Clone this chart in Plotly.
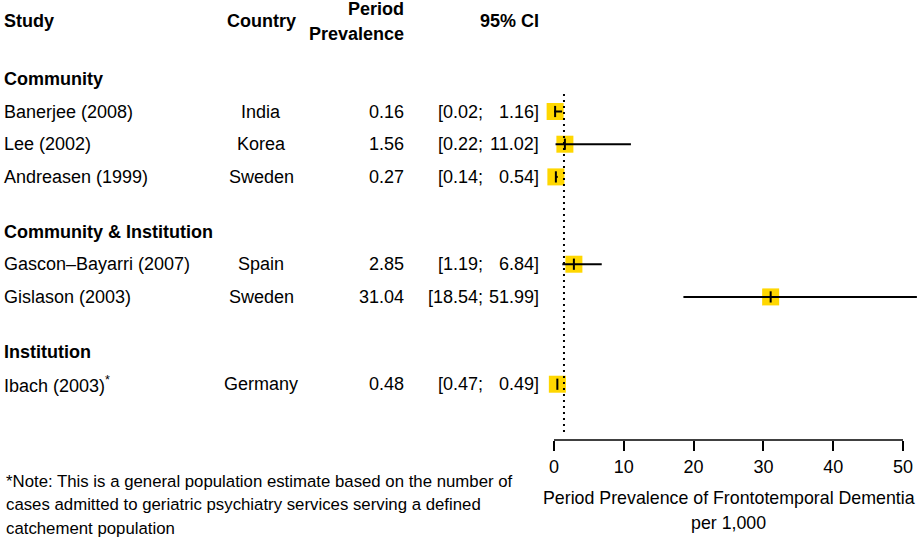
import plotly.graph_objects as go

# ---------------- data ----------------
groups = ["Community", "Community & Institution", "Institution"]
study_group = ["Community", "Community", "Community",
               "Community & Institution", "Community & Institution",
               "Institution"]
studies = ["Banerjee (2008)", "Lee (2002)", "Andreasen (1999)",
           "Gascon\u2013Bayarri (2007)", "Gislason (2003)",
           "Ibach (2003)<sup>*</sup>"]
countries = ["India", "Korea", "Sweden", "Spain", "Sweden", "Germany"]
prevalence = [0.16, 1.56, 0.27, 2.85, 31.04, 0.48]
ci_lower = [0.02, 0.22, 0.14, 1.19, 18.54, 0.47]
ci_upper = [1.16, 11.02, 0.54, 6.84, 51.99, 0.49]
pooled_estimate = 1.43
x_ticks = [0, 10, 20, 30, 40, 50]
x_title = ["Period Prevalence of Frontotemporal Dementia", "per 1,000"]
note_lines = ["*Note: This is a general population estimate based on the number of",
              "cases admitted to geriatric psychiatry services serving a defined",
              "catchement population"]

# ---------------- layout helpers ----------------
W, H = 920, 537
PLOT_BOTTOM = 440          # pixel of x axis
ROW0_PX, ROW_PX = 78.8, 32.7
GROUP_GAP = 0.67
FONT = "Liberation Sans, Arial, Helvetica, sans-serif"
FS = 18
NOTE_FS = 16.8
GOLD = "#FFD700"

# row positions computed from group structure
header_pos = {}
study_pos = []
pos = 0.0
for gi, g in enumerate(groups):
    if gi > 0:
        pos += 1 + GROUP_GAP
    header_pos[g] = pos
    for s_i, sg in enumerate(study_group):
        if sg == g:
            pos += 1
            study_pos.append(pos)


def py(px):
    """pixel (from top) -> paper y"""
    return 1 - px / PLOT_BOTTOM


def px_x(px):
    return px / W


fig = go.Figure()

# squares
fig.add_trace(go.Scatter(
    x=prevalence, y=study_pos, mode="markers",
    marker=dict(symbol="square", size=17, color=GOLD, line=dict(width=0)),
    hoverinfo="skip", showlegend=False))

# CI lines
lx, ly = [], []
for lo, hi, yp in zip(ci_lower, ci_upper, study_pos):
    lx += [lo, hi, None]
    ly += [yp, yp, None]
fig.add_trace(go.Scatter(
    x=lx, y=ly, mode="lines", line=dict(color="black", width=2),
    hoverinfo="skip", showlegend=False))

# point estimate ticks
fig.add_trace(go.Scatter(
    x=prevalence, y=study_pos, mode="markers",
    marker=dict(symbol="line-ns", size=8, line=dict(color="black", width=2)),
    hoverinfo="skip", showlegend=False))

ann = []


def text(x, y, s, anchor="left", bold=False, yref="paper", xref="paper", size=FS):
    ann.append(dict(x=x, y=y, xref=xref, yref=yref, text=("<b>%s</b>" % s) if bold else s,
                    showarrow=False, xanchor=anchor, yanchor="middle",
                    font=dict(family=FONT, size=size, color="black")))


# column headers
text(px_x(2), py(21), "Study", bold=True)
text(px_x(261), py(21), "Country", "center", bold=True)
text(px_x(406), py(9), "Period", "right", bold=True)
text(px_x(406), py(34), "Prevalence", "right", bold=True)
text(px_x(541), py(21), "95% CI", "right", bold=True)

# group headers
for g in groups:
    text(px_x(2), header_pos[g], g, bold=True, yref="y")

# study rows
for s, c, p, lo, hi, yp in zip(studies, countries, prevalence, ci_lower, ci_upper, study_pos):
    text(px_x(2), yp, s, yref="y")
    text(px_x(261), yp, c, "center", yref="y")
    text(px_x(406), yp, "%.2f" % p, "right", yref="y")
    text(px_x(485), yp, "[%.2f;" % lo, "right", yref="y")
    text(px_x(541), yp, "%.2f]" % hi, "right", yref="y")

# axis title
text(25, py(498), x_title[0], "center", xref="x", size=17.8)
text(25, py(523), x_title[1], "center", xref="x", size=17.8)

# note
for i, line in enumerate(note_lines):
    text(px_x(4), py(481 + 23.5 * i), line, size=NOTE_FS)

shapes = [
    # reference (pooled) dotted line
    dict(type="line", xref="x", yref="paper", x0=pooled_estimate, x1=pooled_estimate,
         y0=py(432), y1=py(90), line=dict(color="black", width=2, dash="2px,4px")),
    # x axis line limited to tick range
    dict(type="line", xref="x", yref="paper", x0=x_ticks[0], x1=x_ticks[-1],
         y0=0, y1=0, line=dict(color="black", width=1.5)),
]

px_per_unit = (903 - 554) / 50.0
x_lo = (540 - 554) / px_per_unit
x_hi = (W - 554) / px_per_unit
y_lo = (PLOT_BOTTOM - ROW0_PX) / ROW_PX
y_hi = (0 - ROW0_PX) / ROW_PX

fig.update_layout(
    width=W, height=H,
    margin=dict(l=0, r=0, t=0, b=H - PLOT_BOTTOM, pad=0),
    paper_bgcolor="white", plot_bgcolor="white",
    showlegend=False,
    annotations=ann, shapes=shapes,
    xaxis=dict(domain=[540 / W, 1], range=[x_lo, x_hi], tickvals=x_ticks,
               ticks="outside", ticklen=10, tickwidth=1.5, tickcolor="black",
               showline=False, showgrid=False, zeroline=False,
               tickfont=dict(family=FONT, size=FS, color="black"), fixedrange=True),
    yaxis=dict(range=[y_lo, y_hi], visible=False, fixedrange=True),
)

fig.write_html("out.html", config={"displayModeBar": False},
               post_script="document.body.style.margin='0';document.body.style.overflow='hidden';")
